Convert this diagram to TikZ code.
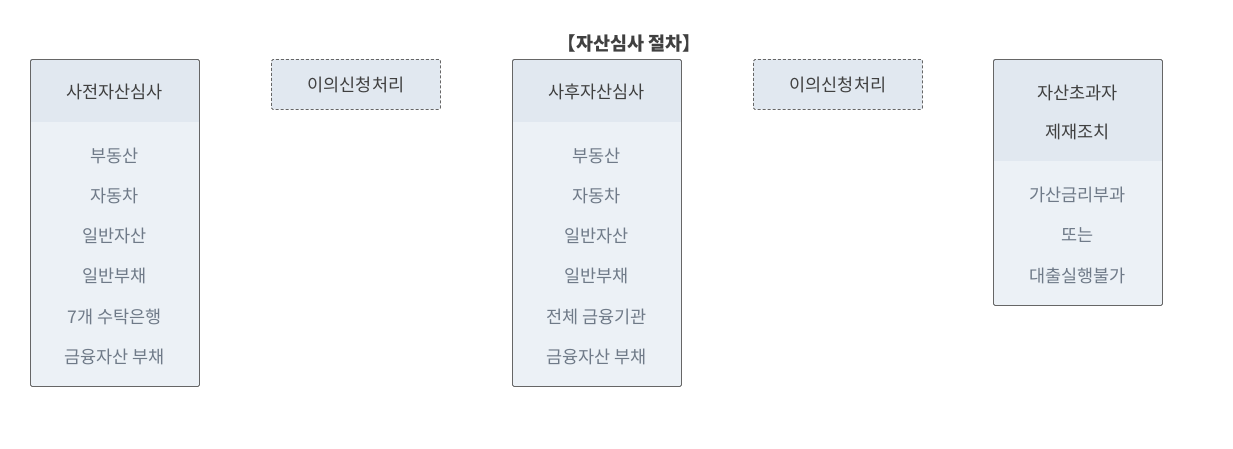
\documentclass[tikz,border=0pt]{standalone}
\usepackage{fontspec}
\setmainfont{Noto Sans CJK KR}
\definecolor{hdrfill}{HTML}{E1E8F0}
\definecolor{bodyfill}{HTML}{ECF1F6}
\definecolor{framecol}{HTML}{666666}
\definecolor{hdrtext}{HTML}{404040}
\definecolor{bodytext}{HTML}{6F7A88}
\begin{document}
\begin{tikzpicture}[x=1pt,y=-1pt,
  hdr/.style={fill=hdrfill, draw=none, anchor=north west, inner sep=0pt, minimum width=169pt},
  bdy/.style={fill=bodyfill, draw=none, anchor=north west, inner sep=0pt, minimum width=169pt},
  frame/.style={draw=framecol, line width=0.9pt, rounded corners=1.5pt, anchor=north west, inner sep=0pt, minimum width=169pt},
  dbox/.style={draw=framecol, line width=0.9pt, dashed, dash pattern=on 3pt off 2pt, rounded corners=1.5pt, fill=hdrfill, anchor=north west, inner sep=0pt, minimum width=169pt, minimum height=50pt, text=hdrtext, font=\fontsize{17.5}{20}\selectfont},
  htxt/.style={text=hdrtext, font=\fontsize{17.5}{20}\selectfont, inner sep=0pt},
  btxt/.style={text=bodytext, font=\fontsize{17.5}{20}\selectfont, inner sep=0pt},
  ttl/.style={text=hdrtext, font=\bfseries\fontsize{18.5}{21}\selectfont, inner sep=0pt}
]
\useasboundingbox (0,0) rectangle (1233,448);

\node[ttl] (title) at (629.5,43.5) {【자산심사 절차】};

% Box 1
\node[hdr, minimum height=63pt] (h1) at (30,59) {};
\node[bdy, minimum height=264pt] (d1) at (30,122) {};
\node[frame, minimum height=327pt] (f1) at (30,59) {};
\node[htxt] (h1t) at (114.5,91.5) {사전자산심사};
\node[btxt] (a1) at (114.5,155.5) {부동산};
\node[btxt] (a2) at (114.5,195.5) {자동차};
\node[btxt] (a3) at (114.5,235.5) {일반자산};
\node[btxt] (a4) at (114.5,275.5) {일반부채};
\node[btxt] (a5) at (114.5,316.5) {7개 수탁은행};
\node[btxt] (a6) at (114.5,356.5) {금융자산 부채};

% Dashed box 1
\node[dbox] (o1) at (271,59) {이의신청처리};

% Box 2
\node[hdr, minimum height=63pt] (h2) at (512,59) {};
\node[bdy, minimum height=264pt] (d2) at (512,122) {};
\node[frame, minimum height=327pt] (f2) at (512,59) {};
\node[htxt] (h2t) at (596.5,91.5) {사후자산심사};
\node[btxt] (c1) at (596.5,155.5) {부동산};
\node[btxt] (c2) at (596.5,195.5) {자동차};
\node[btxt] (c3) at (596.5,235.5) {일반자산};
\node[btxt] (c4) at (596.5,275.5) {일반부채};
\node[btxt] (c5) at (596.5,316.5) {전체 금융기관};
\node[btxt] (c6) at (596.5,356.5) {금융자산 부채};

% Dashed box 2
\node[dbox] (o2) at (753,59) {이의신청처리};

% Box 3
\node[hdr, minimum height=102pt] (h3) at (993,59) {};
\node[bdy, minimum height=144pt] (d3) at (993,161) {};
\node[frame, minimum height=246pt] (f3) at (993,59) {};
\node[htxt] (h3t1) at (1077.5,92.5) {자산초과자};
\node[htxt] (h3t2) at (1077.5,131.5) {제재조치};
\node[btxt] (e1) at (1077.5,194.5) {가산금리부과};
\node[btxt] (e2) at (1077.5,235.5) {또는};
\node[btxt] (e3) at (1077.5,275.5) {대출실행불가};
\end{tikzpicture}
\end{document}
